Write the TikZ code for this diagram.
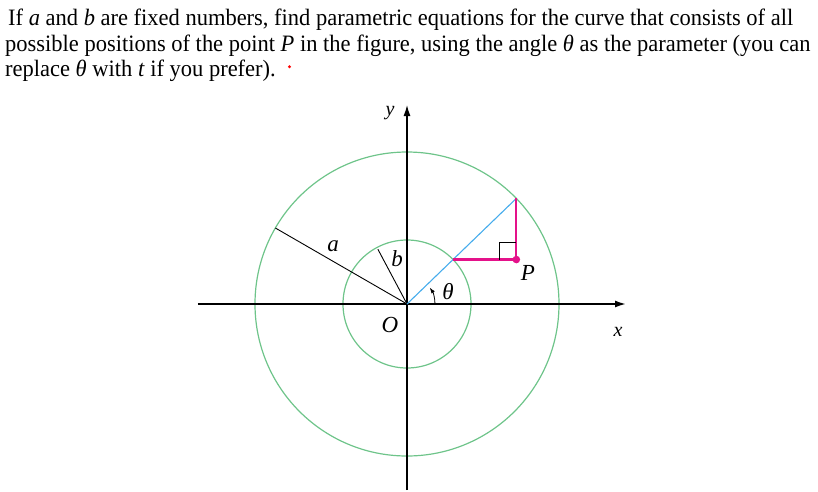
\documentclass[tikz,border=0pt]{standalone}
\usepackage{fontspec}
\setmainfont{Liberation Serif}
\newfontfamily\qfont[FakeStretch=0.957]{Liberation Serif}
\usetikzlibrary{arrows.meta,calc}

\definecolor{ringgreen}{RGB}{110,196,138}
\definecolor{rayblue}{RGB}{70,172,236}
\definecolor{pmag}{RGB}{228,18,138}

\begin{document}
\begin{tikzpicture}[x=1pt,y=1pt,>={Latex[length=11pt,width=7pt]},
  line/.style={anchor=base west,inner sep=0pt,font=\qfont\fontsize{23.5}{23.5}\selectfont},
  lab/.style={inner sep=0pt,font=\fontsize{23}{23}\selectfont\itshape},
  ring/.style={draw=ringgreen,line width=1.2pt}]
  \useasboundingbox (-407,-187) rectangle (411,304);

  % question text
  \node[line] (q1) at (-399,279) {If \textit{a} and \textit{b} are fixed numbers, find parametric equations for the curve that consists of all};
  \node[line] (q2) at (-402,253) {possible positions of the point \textit{P} in the figure, using the angle \textit{θ} as the parameter (you can};
  \node[line] (q3) at (-402,228) {replace \textit{θ} with \textit{t} if you prefer).};
  \fill[red] (-117.5,237.3) circle (1.6);

  % axes and circles
  \coordinate (O) at (0,0);
  \draw[ring] (O) circle (152);
  \draw[ring] (O) circle (64);
  \draw[line width=1.7pt,->] (-209,0) -- (219,0) coordinate (xend);
  \draw[line width=1.3pt,->] (0,-186) -- (0,199) coordinate (yend);
  \node[lab,font=\fontsize{20}{20}\selectfont\itshape] (xlab) at (211,-28) {x};
  \node[lab,font=\fontsize{20}{20}\selectfont\itshape] (ylab) at (-17,191) {y};
  \node[lab] (olab) at (-17,-21) {O};

  % radii
  \coordinate (A) at (150:152);
  \coordinate (B) at (118:62);
  \draw[line width=0.9pt] (O) -- (A);
  \draw[line width=0.9pt] (O) -- (B);
  \node[lab] (alab) at (-74,58) {a};
  \node[lab] (blab) at (-10,45) {b};

  % ray, P and right angle
  \coordinate (R) at (44:152);
  \coordinate (Q) at (44:64);
  \coordinate (P) at (R |- Q);
  \draw[rayblue,line width=1.1pt] (O) -- (R);
  \draw[pmag,line width=2.8pt] (Q) -- (P);
  \draw[pmag,line width=2pt] (P) -- (R);
  \fill[pmag] (P) circle (3.8);
  \draw[line width=0.7pt] ($(P)+(-17,0)$) -- ++(0,17) -- ++(17,0);
  \node[lab] (plab) at (121,31) {P};

  % angle
  \draw[line width=0.8pt,-{Latex[length=6pt,width=4pt]}] (28,0) arc (0:36:28);
  \node[lab] (tlab) at (41,12) {θ};
\end{tikzpicture}
\end{document}
